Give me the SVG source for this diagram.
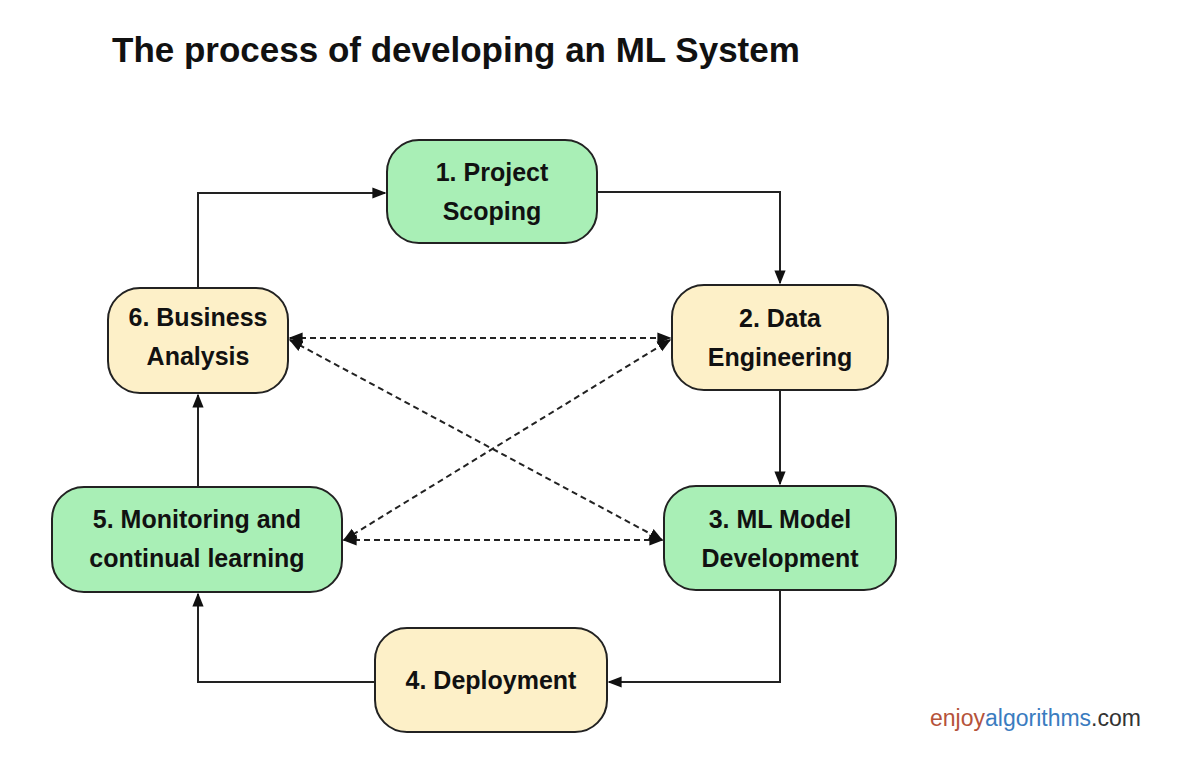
<svg xmlns="http://www.w3.org/2000/svg" width="1200" height="765" viewBox="0 0 1200 765">
<defs>
<marker id="ah" viewBox="0 0 10 10" refX="9" refY="5" markerWidth="7" markerHeight="7" orient="auto-start-reverse"><path d="M0,1 L10,5 L0,9 z" fill="#111"/></marker>
<style>
.g{fill:#a9efb6;stroke:#222;stroke-width:2}
.y{fill:#fdf0c8;stroke:#222;stroke-width:2}
.t{font-family:"Liberation Sans",Arial,sans-serif;font-weight:bold;font-size:25px;fill:#111;text-anchor:middle}
.c{fill:none;stroke:#222;stroke-width:2}
.d{fill:none;stroke:#222;stroke-width:2;stroke-dasharray:6,4}
</style>
</defs>
<rect width="1200" height="765" fill="#fff"/>
<text x="112" y="62" font-family="Liberation Sans,Arial,sans-serif" font-weight="bold" font-size="35" fill="#111">The process of developing an ML System</text>
<g id="connectors">
<path class="c" d="M198,288 V193 H385" marker-end="url(#ah)"/>
<path class="c" d="M597,192 H780 V283" marker-end="url(#ah)"/>
<path class="c" d="M780,390 V484" marker-end="url(#ah)"/>
<path class="c" d="M780,590 V682 H609" marker-end="url(#ah)"/>
<path class="c" d="M375,682 H198 V594" marker-end="url(#ah)"/>
<path class="c" d="M198,487 V395" marker-end="url(#ah)"/>
<path class="d" d="M290,338 H670" marker-start="url(#ah)" marker-end="url(#ah)"/>
<path class="d" d="M290,340 L662,540" marker-start="url(#ah)" marker-end="url(#ah)"/>
<path class="d" d="M344,540 L670,340" marker-start="url(#ah)" marker-end="url(#ah)"/>
<path class="d" d="M344,540 H662" marker-start="url(#ah)" marker-end="url(#ah)"/>
</g>
<g id="n1"><rect class="g" x="387" y="140" width="210" height="103" rx="32"/><text class="t" x="492" y="181">1. Project</text><text class="t" x="492" y="220">Scoping</text></g>
<g id="n2"><rect class="y" x="672" y="285" width="216" height="105" rx="32"/><text class="t" x="780" y="327">2. Data</text><text class="t" x="780" y="366">Engineering</text></g>
<g id="n3"><rect class="g" x="664" y="486" width="232" height="104" rx="32"/><text class="t" x="780" y="528">3. ML Model</text><text class="t" x="780" y="567">Development</text></g>
<g id="n4"><rect class="y" x="375" y="628" width="232" height="104" rx="32"/><text class="t" x="491" y="689">4. Deployment</text></g>
<g id="n5"><rect class="g" x="52" y="487" width="290" height="105" rx="32"/><text class="t" x="197" y="528">5. Monitoring and</text><text class="t" x="197" y="567">continual learning</text></g>
<g id="n6"><rect class="y" x="108" y="288" width="180" height="105" rx="32"/><text class="t" x="198" y="326">6. Business</text><text class="t" x="198" y="365">Analysis</text></g>
<text x="930" y="726" font-family="Liberation Sans,Arial,sans-serif" font-size="23"><tspan fill="#b5533a">enjoy</tspan><tspan fill="#3a7cc0">algorithms</tspan><tspan fill="#333">.com</tspan></text>
</svg>
